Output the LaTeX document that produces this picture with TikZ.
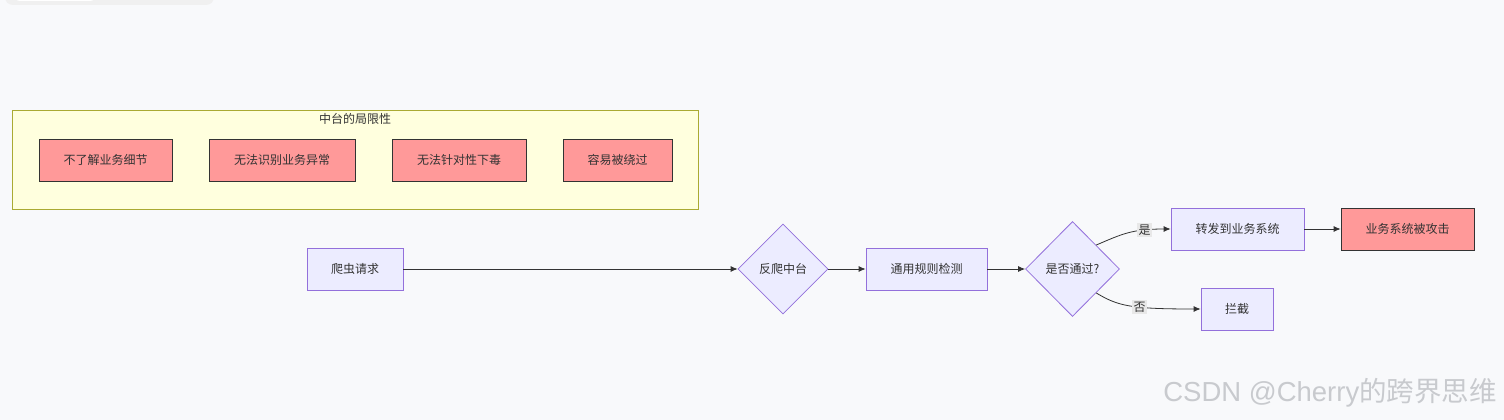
\documentclass[tikz,border=0pt]{standalone}
\usepackage{fontspec}
\setmainfont{Noto Sans CJK SC}
\newfontfamily\markfont{Liberation Sans}
\usepackage{tikz}
\usetikzlibrary{
  shapes.geometric,
  arrows.meta,
  positioning
}
\definecolor{bgcolor}{RGB}{248, 249, 251}
\definecolor{nodefill}{RGB}{236, 236, 255}
\definecolor{nodedraw}{RGB}{147, 112, 219}
\definecolor{alertfill}{RGB}{255, 153, 153}
\definecolor{alertdraw}{RGB}{51, 51, 51}
\definecolor{groupfill}{RGB}{255, 255, 222}
\definecolor{groupdraw}{RGB}{170, 170, 51}
\definecolor{arrowcolor}{RGB}{51, 51, 51}
\definecolor{labelfill}{RGB}{232, 232, 232}
\definecolor{labelcolor}{RGB}{51, 51, 51}
\definecolor{markcolor}{RGB}{200, 202, 206}
\tikzset{
blocktext/.style={
  align=center,
  font=\fontsize{12}{14}\selectfont,
  text=labelcolor
},
flowblock/.style={
  draw=nodedraw,
  fill=nodefill,
  line width=0.8pt,
  minimum height=42pt,
  inner sep=0pt,
  blocktext
},
alertblock/.style={
  draw=alertdraw,
  fill=alertfill,
  line width=0.8pt,
  minimum height=42pt,
  inner sep=0pt,
  blocktext
},
decision/.style={
  diamond,
  aspect=1,
  draw=nodedraw,
  fill=nodefill,
  line width=0.8pt,
  inner sep=0pt,
  blocktext
},
grouptitle/.style={
  blocktext
},
edgelabel/.style={
  fill=labelfill,
  inner sep=1.5pt,
  blocktext
},
arrow/.style={
  -{Latex[length=7pt,width=6pt]},
  line width=0.8pt,
  draw=arrowcolor
}
}

\begin{document}
\begin{tikzpicture}[x=1pt, y=-1pt]
  % --- canvas ---
  \fill[bgcolor] (0, 0) rectangle (1504, 420);
  \useasboundingbox (0, 0) rectangle (1504, 420);
  \fill[gray!12, rounded corners=8pt] (5, -30) rectangle (214, 5);
  \fill[white, rounded corners=6pt] (14, -30) rectangle (96, 1);

  % --- group: limits ---
  \draw[groupdraw, fill=groupfill, line width=0.8pt] (12, 110) rectangle (698, 209);
  \node[grouptitle] (gtitle) at (355, 119) {中台的局限性};
  \node[alertblock, minimum width=133pt] (lim1) at (105.5, 160) {不了解业务细节};
  \node[alertblock, minimum width=146pt] (lim2) at (282, 160) {无法识别业务异常};
  \node[alertblock, minimum width=134pt] (lim3) at (459, 160) {无法针对性下毒};
  \node[alertblock, minimum width=109pt] (lim4) at (617.5, 160) {容易被绕过};

  % --- main flow ---
  \node[flowblock, minimum width=96pt] (req) at (355, 269) {爬虫请求};
  \node[decision, minimum width=90pt, minimum height=90pt] (anti) at (783, 269) {反爬中台};
  \node[flowblock, minimum width=121pt] (rule) at (926.5, 269) {通用规则检测};
  \node[decision, minimum width=94pt, minimum height=95pt] (pass) at (1072.5, 269) {是否通过?};
  \node[flowblock, minimum width=133pt] (fwd) at (1237.5, 229) {转发到业务系统};
  \node[alertblock, minimum width=133pt] (hit) at (1407.5, 229) {业务系统被攻击};
  \node[flowblock, minimum width=72pt] (block) at (1237, 309) {拦截};

  \draw[arrow] (req.east) -- (anti.west);
  \draw[arrow] (anti.east) -- (rule.west);
  \draw[arrow] (rule.east) -- (pass.west);
  \draw[arrow] (pass.north east) .. controls (1122, 234) and (1132, 229) .. (fwd.west)
    node[edgelabel, pos=0.73] (yes) {是};
  \draw[arrow] (pass.south east) .. controls (1118, 306) and (1130, 309) .. (block.west)
    node[edgelabel, pos=0.6] (no) {否};
  \draw[arrow] (fwd.east) -- (hit.west);

  % --- watermark ---
  \node[font=\fontsize{27.5}{30}\selectfont, text=markcolor, anchor=east, inner sep=0pt] (mark) at (1497, 393)
    {{\markfont CSDN @Cherry}的跨界思维};
\end{tikzpicture}
\end{document}
